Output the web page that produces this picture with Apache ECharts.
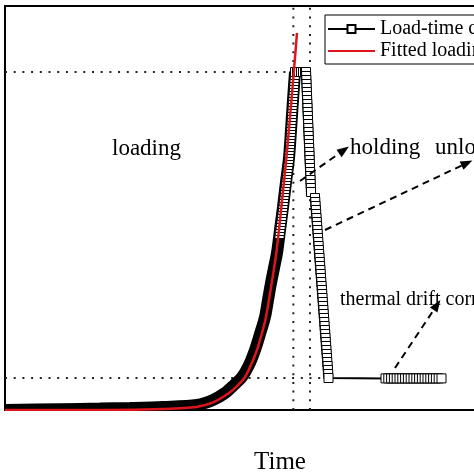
<!DOCTYPE html>
<html>
<head>
<meta charset="utf-8">
<script src="https://cdn.jsdelivr.net/npm/echarts@6/dist/echarts.min.js"></script>
<style>html,body{margin:0;padding:0;background:#fff;}#c{width:474px;height:474px;}</style>
</head>
<body>
<div id="c"></div>
<script>
// Loading segment (time, load) — lower part drawn as a dense band of markers
const loadTime = [0, 11, 19, 25, 31.6, 38.4, 41.6, 44, 45.8, 47.4, 48.8, 50, 51, 52, 52.6, 53.2, 53.8, 54.4, 55, 55.6, 56.2, 56.8, 57.2, 57.6, 58];
const loadLoad = [0, 0.2, 0.35, 0.5, 0.75, 1.25, 2.5, 4.25, 6.25, 8.25, 11.25, 15, 19, 23.25, 27.5, 31.75, 35.5, 39.25, 45, 50.75, 57, 63, 70, 77.5, 84.5];
// Loading, upper part: individually visible markers
const topTime = [54.9, 54.97, 55.05, 55.13, 55.21, 55.29, 55.37, 55.44, 55.52, 55.6, 55.67, 55.74, 55.82, 55.89, 55.96, 56.03, 56.1, 56.18, 56.25, 56.33,
  56.4, 56.48, 56.55, 56.63, 56.7, 56.78, 56.83, 56.87, 56.91, 56.95, 57.0, 57.04, 57.09, 57.13, 57.17, 57.21, 57.25, 57.29, 57.33, 57.37,
  57.41, 57.45, 57.49, 57.53, 57.57, 57.61, 57.66, 57.7, 57.74, 57.79, 57.83, 57.87, 57.91, 57.96];
const topLoad = [44, 44.75, 45.5, 46.25, 47, 47.75, 48.5, 49.25, 50, 50.75, 51.5, 52.25, 53, 53.75, 54.5, 55.25, 56, 56.75, 57.5, 58.25,
  59, 59.75, 60.5, 61.25, 62, 62.75, 63.5, 64.25, 65, 65.75, 66.5, 67.25, 68, 68.75, 69.5, 70.25, 71, 71.75, 72.5, 73.25,
  74, 74.75, 75.5, 76.25, 77, 77.75, 78.5, 79.25, 80, 80.75, 81.5, 82.25, 83, 83.75];
// Holding at peak
const holdTime = [58, 58.4, 58.8, 59.2, 59.6, 60.0];
const holdLoad = [84.5, 84.5, 84.5, 84.5, 84.5, 84.5];
// Unloading
const unloadTime = [60.2, 60.23, 60.27, 60.3, 60.33, 60.37, 60.4, 60.43, 60.47, 60.5, 60.53, 60.57, 60.6, 60.63, 60.67, 60.7, 60.73, 60.77, 60.8, 60.83,
  60.87, 60.9, 60.93, 60.97, 61.0, 61.03, 61.07, 61.1, 61.13, 61.17, 61.2,
  62.0, 62.06, 62.12, 62.18, 62.24, 62.3, 62.36, 62.42, 62.48, 62.54, 62.6, 62.66, 62.72, 62.78, 62.84, 62.9, 62.96, 63.02, 63.08, 63.14,
  63.2, 63.26, 63.32, 63.38, 63.44, 63.5, 63.56, 63.62, 63.68, 63.74, 63.8, 63.86, 63.92, 63.98, 64.04, 64.1, 64.16, 64.22, 64.28, 64.34,
  64.4, 64.46, 64.52, 64.58, 64.64, 64.7];
const unloadLoad = [84.5, 83.5, 82.5, 81.5, 80.5, 79.5, 78.5, 77.5, 76.5, 75.5, 74.5, 73.5, 72.5, 71.5, 70.5, 69.5, 68.5, 67.5, 66.5, 65.5,
  64.5, 63.5, 62.5, 61.5, 60.5, 59.5, 58.5, 57.5, 56.5, 55.5, 54.5,
  53, 52, 51, 50, 49, 48, 47, 46, 45, 44, 43, 42, 41, 40, 39, 38, 37, 36, 35, 34,
  33, 32, 31, 30, 29, 28, 27, 26, 25, 24, 23, 22, 21, 20, 19, 18, 17, 16, 15, 14,
  13, 12, 11, 10, 9, 8];
// Thermal drift hold
const driftTime = [76.1, 76.66, 77.22, 77.78, 78.34, 78.9, 79.46, 80.02, 80.58, 81.14, 81.7, 82.26, 82.82, 83.38, 83.94, 84.5, 85.06, 85.62, 86.18, 86.74, 87.3];
const driftLoad = [7.9, 7.9, 7.9, 7.9, 7.9, 7.9, 7.9, 7.9, 7.9, 7.9, 7.9, 7.9, 7.9, 7.9, 7.9, 7.9, 7.9, 7.9, 7.9, 7.9, 7.9];
// Fitted loading curve
const fitTime = [0, 20, 31.6, 38.3, 41.6, 44.8, 46.6, 48, 49.2, 50.4, 51.4, 52.2, 53.34, 54.34, 55.36, 56.28, 57.3, 58.4];
const fitLoad = [0, 0, 0.25, 0.75, 1.9, 4.25, 6.2, 8.25, 11.25, 15, 19.25, 23.25, 31.75, 40, 51.75, 63, 77.5, 94.25];
// Guide lines (time, load)
const peakLine = [[0, 84.5], [57.4, 84.5]];
const driftLine = [[0, 8], [64, 8]];
const vLine1 = [[57.67, 0], [57.67, 101]];
const vLine2 = [[61, 0], [61, 101]];
// Annotation arrows [from, to]
const arrows = [
  [[59, 57.25], [67.8, 65]],
  [[64, 45], [92.4, 61.75]],
  [[78, 10.5], [86.4, 26.25]]
];

const zip = (a, b) => a.map((v, i) => [v, b[i]]);
const mainData = zip(topTime, topLoad).concat(zip(holdTime, holdLoad), zip(unloadTime, unloadLoad), zip(driftTime, driftLoad));

const serif = 'Liberation Serif';
const dotted = {color: '#222', width: 2, type: [2, 6.7]};

const chart = echarts.init(document.getElementById('c'), null, {renderer: 'canvas'});
chart.setOption({
  animation: false,
  backgroundColor: '#fff',
  grid: {left: 5, top: 6, width: 550, height: 404, outerBoundsMode: 'none', containLabel: false,
         show: true, borderColor: '#000', borderWidth: 2, backgroundColor: 'transparent'},
  xAxis: {
    type: 'value', min: 0, max: 110, z: 60,
    axisLine: {show: false}, axisTick: {show: false}, axisLabel: {show: false}, splitLine: {show: false},
    name: 'Time', nameLocation: 'middle', nameGap: 40,
    nameTextStyle: {fontSize: 25, fontFamily: serif, color: '#000'}
  },
  yAxis: {
    type: 'value', min: 0, max: 101,
    axisLine: {show: false}, axisTick: {show: false}, axisLabel: {show: false}, splitLine: {show: false}
  },
  legend: {
    data: ['Load-time curve', {name: 'Fitted loading curve', itemStyle: {opacity: 0}}],
    orient: 'vertical', left: 325, top: 15,
    itemWidth: 47, itemHeight: 10, itemGap: 2,
    padding: [4, 6, 3, 2],
    borderColor: '#000', borderWidth: 1, backgroundColor: '#fff',
    textStyle: {fontSize: 20, fontFamily: serif, color: '#000'},
    selectedMode: false
  },
  graphic: [
    {type: 'rect', z: 50, shape: {x: 0, y: 411, width: 474, height: 63}, style: {fill: '#fff'}},
    {type: 'text', z: 55, x: 112, y: 149, style: {text: 'loading', fontSize: 23, fontFamily: serif, fill: '#000', verticalAlign: 'middle'}},
    {type: 'text', z: 55, x: 350, y: 147.5, style: {text: 'holding', fontSize: 23, fontFamily: serif, fill: '#000', verticalAlign: 'middle'}},
    {type: 'text', z: 55, x: 435, y: 147.5, style: {text: 'unloading', fontSize: 23, fontFamily: serif, fill: '#000', verticalAlign: 'middle'}},
    {type: 'text', z: 55, x: 340, y: 300, style: {text: 'thermal drift correction', fontSize: 20, fontFamily: serif, fill: '#000', verticalAlign: 'middle'}}
  ],
  series: [
    {name: 'g1', type: 'line', data: peakLine, showSymbol: false, symbol: 'none', lineStyle: dotted, silent: true, z: 1},
    {name: 'g2', type: 'line', data: driftLine, showSymbol: false, symbol: 'none', lineStyle: dotted, silent: true, z: 1},
    {name: 'g3', type: 'line', data: vLine1, showSymbol: false, symbol: 'none', lineStyle: dotted, silent: true, z: 1},
    {name: 'g4', type: 'line', data: vLine2, showSymbol: false, symbol: 'none', lineStyle: dotted, silent: true, z: 1},
    {name: 'band', type: 'line', data: zip(loadTime, loadLoad), symbol: 'none', smooth: 0.3,
     lineStyle: {color: '#000', width: 12}, silent: true, z: 2},
    {name: 'Load-time curve', type: 'line', data: mainData, symbol: 'rect', symbolSize: 9, showAllSymbol: true,
     itemStyle: {color: '#fff', borderColor: '#000', borderWidth: 1},
     lineStyle: {color: '#000', width: 2}, z: 3,
     markLine: {
       silent: true, symbol: ['none', 'triangle'], symbolSize: [9, 12], label: {show: false},
       lineStyle: {color: '#000', width: 2, type: [7, 5]},
       data: arrows.map(a => [{coord: a[0]}, {coord: a[1]}])
     }},
    {name: 'Fitted loading curve', type: 'line', data: zip(fitTime, fitLoad), symbol: 'none', smooth: 0.3,
     itemStyle: {color: '#e0141b'}, lineStyle: {color: '#e0141b', width: 2.5}, z: 4}
  ]
});
</script>
</body>
</html>
